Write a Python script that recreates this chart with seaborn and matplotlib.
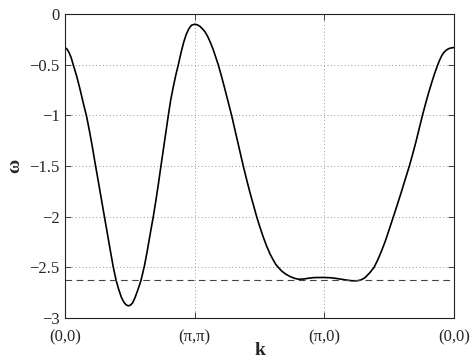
import numpy as np
import pandas as pd
import seaborn as sb
import matplotlib
matplotlib.use("Agg")
import matplotlib.pyplot as plt

# path position along (0,0)->(pi,pi)->(pi,0)->(0,0), each segment one unit wide
k_pos = [0.000, 0.016, 0.032, 0.048, 0.064, 0.09, 0.115, 0.14, 0.167, 0.19, 0.212,
         0.233, 0.257, 0.28, 0.303, 0.327, 0.35, 0.373, 0.395, 0.415, 0.435, 0.455,
         0.472, 0.488, 0.505, 0.522, 0.54, 0.56, 0.585, 0.612, 0.635, 0.658, 0.681,
         0.70, 0.72, 0.74, 0.76, 0.78, 0.797, 0.815, 0.835, 0.855, 0.874, 0.895,
         0.915, 0.935, 0.955, 0.975, 1.00,
         1.02, 1.04, 1.06, 1.08, 1.10, 1.118, 1.14, 1.16, 1.182, 1.205, 1.23, 1.257,
         1.285, 1.31, 1.33, 1.355, 1.375, 1.40, 1.425, 1.45, 1.478, 1.505, 1.53,
         1.555, 1.58, 1.605, 1.625, 1.645, 1.67, 1.70, 1.735, 1.77, 1.80, 1.84, 1.88,
         1.92, 1.967, 2.00,
         2.04, 2.08, 2.12, 2.17, 2.21, 2.25, 2.28, 2.31, 2.33, 2.352, 2.383, 2.41,
         2.44, 2.47, 2.50, 2.532, 2.56, 2.59, 2.62, 2.655, 2.68, 2.705, 2.73, 2.756,
         2.78, 2.805, 2.83, 2.853, 2.874, 2.89, 2.905, 2.92, 2.94, 2.96, 2.98, 3.00]
omega = [-0.330, -0.345, -0.38, -0.43, -0.50, -0.61, -0.735, -0.87, -1.01, -1.16, -1.315,
         -1.475, -1.65, -1.82, -1.99, -2.165, -2.335, -2.50, -2.63, -2.72, -2.795, -2.845,
         -2.87, -2.88, -2.873, -2.85, -2.80, -2.73, -2.635, -2.49, -2.335, -2.165, -2.00,
         -1.85, -1.68, -1.50, -1.325, -1.15, -1.00, -0.85, -0.72, -0.60, -0.50, -0.38,
         -0.28, -0.20, -0.145, -0.11, -0.10,
         -0.105, -0.12, -0.145, -0.175, -0.22, -0.27, -0.34, -0.415, -0.50, -0.605, -0.725, -0.86,
         -1.00, -1.14, -1.25, -1.39, -1.50, -1.63, -1.755, -1.87, -2.00, -2.11, -2.205,
         -2.29, -2.365, -2.425, -2.47, -2.50, -2.535, -2.565, -2.59, -2.608, -2.617, -2.615, -2.607,
         -2.601, -2.600, -2.600,
         -2.602, -2.607, -2.615, -2.625, -2.632, -2.633, -2.625, -2.605, -2.58, -2.55, -2.50, -2.43,
         -2.34, -2.24, -2.125, -2.00, -1.89, -1.77, -1.645, -1.50, -1.385, -1.265, -1.135, -1.00,
         -0.885, -0.77, -0.665, -0.575, -0.50, -0.45, -0.41, -0.38, -0.355, -0.34, -0.333, -0.33]
ref_level = -2.62

x_ticks = [0, 1, 2, 3]
x_labels = ["(0,0)", "(π,π)", "(π,0)", "(0,0)"]
y_ticks = [0, -0.5, -1, -1.5, -2, -2.5, -3]
y_labels = ["0", "−0.5", "−1", "−1.5", "−2", "−2.5", "−3"]

sb.set_style("ticks")
plt.rcParams['font.family'] = ['Liberation Serif', 'DejaVu Serif']

fig = plt.figure(figsize=(4.74, 3.62), dpi=100)
ax = fig.add_axes([0.137, 0.1215, 0.821, 0.8395])

df = pd.DataFrame({"k": k_pos, "w": omega})
sb.lineplot(data=df, x="k", y="w", sort=False, estimator=None, color="black",
            linewidth=1.2, ax=ax)
ax.axhline(ref_level, color="#444444", linestyle=(0, (6, 4)), linewidth=0.8)

ax.set_xlim(0, 3)
ax.set_ylim(-3, 0)
ax.set_xticks(x_ticks)
ax.set_xticklabels(x_labels)
ax.set_yticks(y_ticks)
ax.set_yticklabels(y_labels)
ax.tick_params(direction="in", top=True, right=True, labelsize=12, length=4,
               width=0.6)
ax.tick_params(axis="x", pad=8)
ax.tick_params(axis="y", pad=4)
ax.grid(True, linestyle=(0, (1, 2.5)), color="#999999", linewidth=0.7)
for s in ax.spines.values():
    s.set_linewidth(0.8)
    s.set_color("#222222")

ax.set_xlabel("k", fontsize=14, fontweight="bold", labelpad=-2)
ax.set_ylabel("ω", fontsize=14, fontweight="bold", labelpad=4)

fig.savefig("out.png", dpi=100)
